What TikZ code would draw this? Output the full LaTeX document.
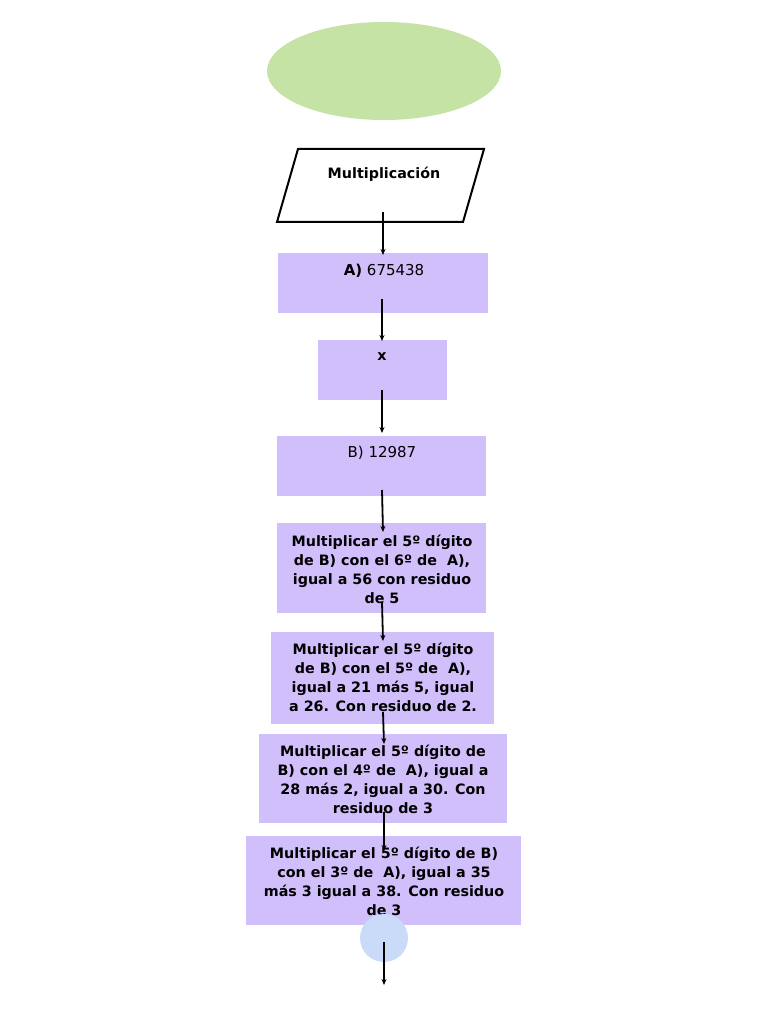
\documentclass[tikz,border=0pt]{standalone}
\usepackage{fontspec}
\setmainfont{DejaVu Sans}
\usetikzlibrary{arrows.meta}
\definecolor{lila}{HTML}{D1BFFB}
\definecolor{verde}{HTML}{C5E3A5}
\definecolor{azul}{HTML}{C9DBF9}
\begin{document}
\begin{tikzpicture}[x=1pt,y=-1pt,
  box/.style={fill=lila,draw=none},
  txt/.style={font=\fontsize{14.3}{19}\selectfont\bfseries,align=center,anchor=north,inner sep=0pt},
  arr/.style={draw,line width=1.8pt,-{Stealth[length=6pt,width=5pt]}}]
\useasboundingbox (0,0) rectangle (768,1024);
\fill[verde] (384,71) ellipse [x radius=117, y radius=49];
\draw[line width=2pt] (277,222) -- (298,149) -- (484,149) -- (463,222) -- cycle;
\node[txt] (t0) at (384,167) {Multiplicación};
\fill[box] (278,253) rectangle (488,313);
\node[txt,font=\fontsize{15}{19}\selectfont] (t1) at (384,264) {\textbf{A)} 675438};
\fill[box] (318,340) rectangle (447,400);
\node[txt] (t2) at (382,352) {x};
\fill[box] (277,436) rectangle (486,496);
\node[txt,font=\fontsize{15}{19}\selectfont] (t3) at (382,446) {B) 12987};
\fill[box] (277,523) rectangle (486,613);
\node[txt] (t4) at (382,535) {Multiplicar el 5º dígito\\de B) con el 6º de~ A),\\igual a 56 con residuo\\de 5};
\fill[box] (271,632) rectangle (494,724);
\node[txt] (t5) at (383,643) {Multiplicar el 5º dígito\\de B) con el 5º de~ A),\\igual a 21 más 5, igual\\a 26. Con residuo de 2.};
\fill[box] (259,734) rectangle (507,823);
\node[txt] (t6) at (383,745) {Multiplicar el 5º dígito de\\B) con el 4º de~ A), igual a\\28 más 2, igual a 30. Con\\residuo de 3};
\fill[box] (246,836) rectangle (521,925);
\node[txt] (t7) at (384,847) {Multiplicar el 5º dígito de B)\\con el 3º de~ A), igual a 35\\más 3 igual a 38. Con residuo\\de 3};
\fill[azul] (384,938) circle (24);
\coordinate (a1) at (383,212); \coordinate (b1) at (383,255);
\coordinate (a2) at (382,299); \coordinate (b2) at (382,341);
\coordinate (a3) at (382,390); \coordinate (b3) at (382,433);
\coordinate (a4) at (382,490); \coordinate (b4) at (383,532);
\coordinate (a5) at (382,602); \coordinate (b5) at (383,641);
\coordinate (a6) at (383,712); \coordinate (b6) at (384,744);
\coordinate (a7) at (384,812); \coordinate (b7) at (384,851);
\coordinate (a8) at (384,942); \coordinate (b8) at (384,985);
\foreach \i in {1,...,8} \path[arr] (a\i) -- (b\i);
\end{tikzpicture}
\end{document}
